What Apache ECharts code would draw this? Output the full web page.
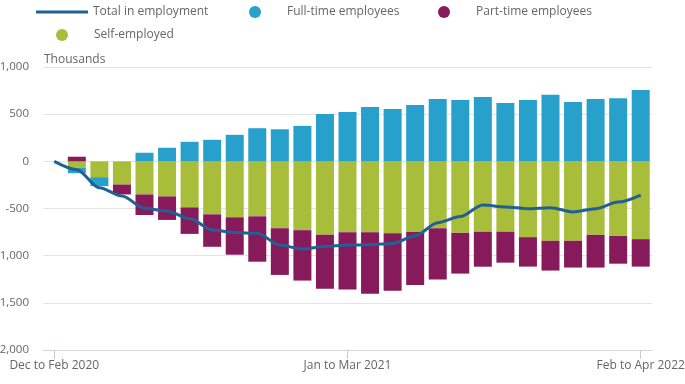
<!DOCTYPE html>
<html>
<head>
<meta charset="utf-8">
<script src="https://cdn.jsdelivr.net/npm/echarts@6/dist/echarts.min.js"></script>
<style>
html,body{margin:0;padding:0;background:#fff;}
#chart{width:685px;height:384px;}
</style>
</head>
<body>
<div id="chart"></div>
<script>
const categories = [
  "Dec to Feb 2020","Jan to Mar 2020","Feb to Apr 2020","Mar to May 2020","Apr to Jun 2020",
  "May to Jul 2020","Jun to Aug 2020","Jul to Sep 2020","Aug to Oct 2020","Sep to Nov 2020",
  "Oct to Dec 2020","Nov to Jan 2021","Dec to Feb 2021","Jan to Mar 2021","Feb to Apr 2021",
  "Mar to May 2021","Apr to Jun 2021","May to Jul 2021","Jun to Aug 2021","Jul to Sep 2021",
  "Aug to Oct 2021","Sep to Nov 2021","Oct to Dec 2021","Nov to Jan 2022","Dec to Feb 2022",
  "Jan to Mar 2022","Feb to Apr 2022"
];
const fullTime = [0, -56, -95, 0, 91, 144, 207, 228, 281, 351, 340, 376, 502, 523, 576, 555, 597, 660, 649, 681, 618, 649, 706, 628, 660, 670, 755];
const partTime = [0, 49, 0, -105, -218, -249, -281, -344, -397, -481, -495, -534, -572, -607, -653, -611, -562, -544, -432, -369, -326, -312, -316, -284, -347, -295, -291];
const selfEmployed = [0, -70, -168, -246, -351, -372, -488, -562, -593, -583, -709, -730, -779, -751, -751, -762, -748, -709, -758, -748, -748, -804, -842, -842, -779, -790, -825];
const totalEmployment = [0, -88, -281, -368, -498, -527, -607, -727, -755, -762, -888, -930, -902, -888, -885, -870, -790, -650, -586, -463, -484, -502, -491, -537, -502, -432, -358];
const labelIdx = [0, 13, 26];

const FONT = "'Open Sans', sans-serif";
const TXT = '#666666';
const chart = echarts.init(document.getElementById('chart'), null, {renderer: 'canvas'});
const showIdx = (i) => labelIdx.indexOf(i) >= 0;

const legendBase = {
  orient: 'horizontal', selectedMode: false, padding: 0,
  textStyle: {fontFamily: FONT, fontSize: 12, color: TXT}
};

chart.setOption({
  animation: false,
  title: {text: 'Thousands', left: 44, top: 54, padding: 0,
    textStyle: {fontFamily: FONT, fontSize: 12, fontWeight: 'normal', color: TXT}},
  legend: [
    Object.assign({}, legendBase, {data: ['Total in employment'], left: 36, top: 6, icon: 'rect', itemWidth: 52, itemHeight: 3}),
    Object.assign({}, legendBase, {data: ['Full-time employees'], left: 249, top: 6, icon: 'circle', itemWidth: 12, itemHeight: 12,
      textStyle: {fontFamily: FONT, fontSize: 12, color: TXT, padding: [0,0,0,21]}}),
    Object.assign({}, legendBase, {data: ['Part-time employees'], left: 438, top: 6, icon: 'circle', itemWidth: 12, itemHeight: 12,
      textStyle: {fontFamily: FONT, fontSize: 12, color: TXT, padding: [0,0,0,21]}}),
    Object.assign({}, legendBase, {data: ['Self-employed'], left: 56, top: 29, icon: 'circle', itemWidth: 12, itemHeight: 12,
      textStyle: {fontFamily: FONT, fontSize: 12, color: TXT, padding: [0,0,0,21]}})
  ],
  grid: {left: 43, right: 33, top: 67, bottom: 34, containLabel: false, outerBoundsMode: 'none'},
  xAxis: {
    type: 'category', data: categories, boundaryGap: true,
    axisLine: {show: true, onZero: false, lineStyle: {color: '#d3d6df', width: 1}},
    axisTick: {show: true, alignWithLabel: true, interval: (i) => showIdx(i), length: 9, lineStyle: {color: '#c5cad6'}},
    axisLabel: {interval: (i) => showIdx(i), margin: 10, fontFamily: FONT, fontSize: 12, color: TXT},
    splitLine: {show: false}
  },
  yAxis: {
    type: 'value', min: -2000, max: 1000, interval: 500,
    axisLine: {show: false}, axisTick: {show: false},
    axisLabel: {margin: 14, fontFamily: FONT, fontSize: 11.5, color: TXT,
      formatter: (v) => v.toLocaleString('en-GB')},
    splitLine: {lineStyle: {color: '#e3e3e3', width: 1}}
  },
  series: [
    {name: 'Self-employed', type: 'bar', stack: 'emp', data: selfEmployed, barWidth: 18,
      itemStyle: {color: '#a8bd3a'}},
    {name: 'Full-time employees', type: 'bar', stack: 'emp', data: fullTime, barWidth: 18,
      itemStyle: {color: '#27a0cc'}},
    {name: 'Part-time employees', type: 'bar', stack: 'emp', data: partTime, barWidth: 18,
      itemStyle: {color: '#871a5b'}},
    {name: 'Total in employment', type: 'line', data: totalEmployment, showSymbol: false, symbol: 'none',
      smooth: 0.3, smoothMonotone: 'x', z: 5,
      lineStyle: {color: '#206095', width: 3}, itemStyle: {color: '#206095'}}
  ]
});
</script>
</body>
</html>
